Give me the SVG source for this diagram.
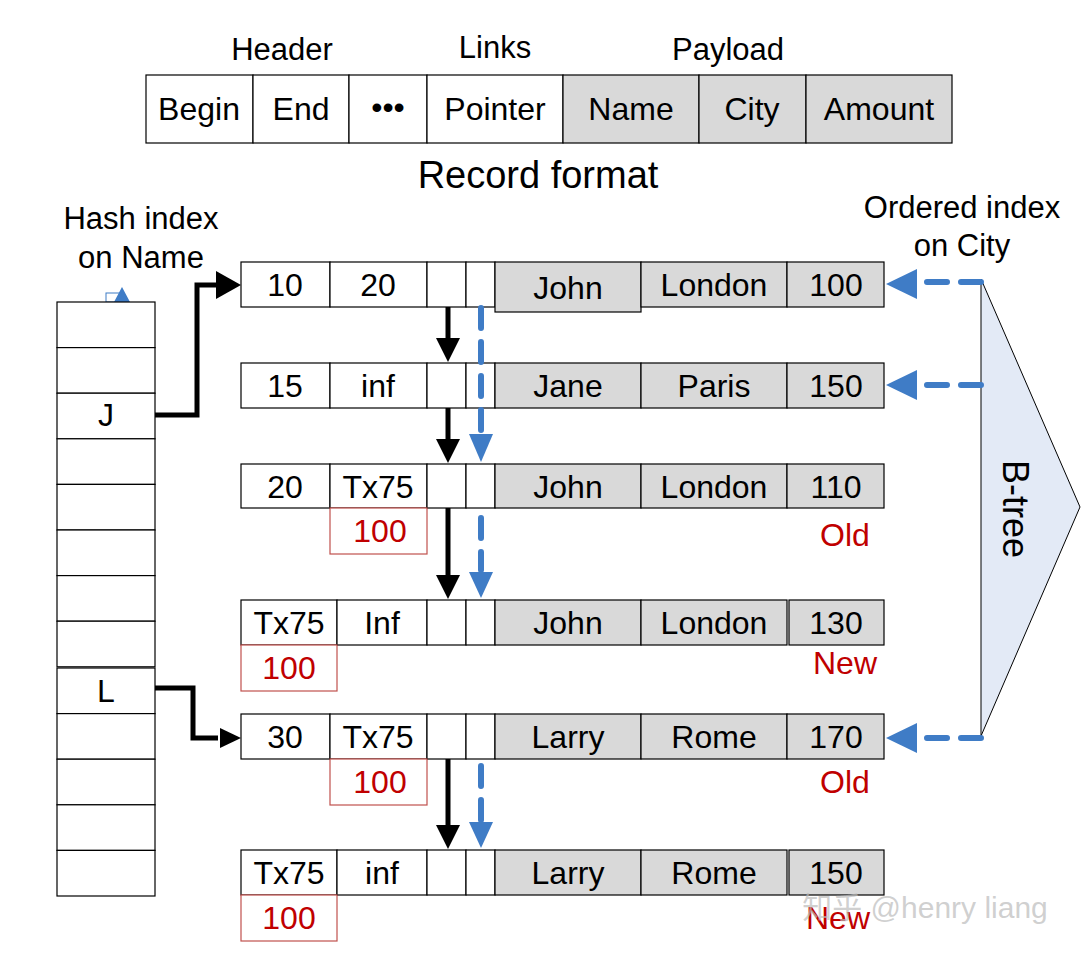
<svg xmlns="http://www.w3.org/2000/svg" width="1090" height="956" viewBox="0 0 1090 956">
<defs>
<style>
text{font-family:"Liberation Sans",Arial,sans-serif;fill:#000;text-anchor:middle}
.c{fill:#fff;stroke:#000;stroke-width:1.2}
.g{fill:#d9d9d9;stroke:#000;stroke-width:1.2}
.r{fill:#fff;stroke:#c0504d;stroke-width:1.2}
.t{font-size:32px}
.rt{font-size:32px;fill:#c00000}
.lb{font-size:31px}
.bk{fill:none;stroke:#000;stroke-width:5}
.bl{fill:none;stroke:#3f7cc6;stroke-width:6;stroke-dasharray:20,14;stroke-linecap:round}
</style>
</defs>
<g id="record-format">
<text x="282" y="60" class="lb">Header</text>
<text x="495" y="58" class="lb">Links</text>
<text x="728" y="60" class="lb">Payload</text>
<rect x="146" y="75" width="107" height="68" class="c"/><text x="199" y="120" class="t">Begin</text>
<rect x="253" y="75" width="96" height="68" class="c"/><text x="301" y="120" class="t">End</text>
<rect x="349" y="75" width="78" height="68" class="c"/><text x="388" y="118" class="t">•••</text>
<rect x="427" y="75" width="136" height="68" class="c"/><text x="495" y="120" class="t">Pointer</text>
<rect x="563" y="75" width="136" height="68" class="g"/><text x="631" y="120" class="t">Name</text>
<rect x="699" y="75" width="107" height="68" class="g"/><text x="752" y="120" class="t">City</text>
<rect x="806" y="75" width="146" height="68" class="g"/><text x="879" y="120" class="t">Amount</text>
<text x="538" y="188" style="font-size:38px">Record format</text>
</g>
<g id="hash-index">
<text x="141" y="229" class="lb">Hash index</text>
<text x="141" y="268" class="lb">on Name</text>
<rect x="106" y="293" width="16" height="9" fill="none" stroke="#3f7cc6" stroke-width="1"/>
<path d="M114,302L122,287L130,302z" fill="#3f7cc6"/>
<rect x="57" y="302" width="98" height="45.6" class="c"/>
<rect x="57" y="347.6" width="98" height="45.6" class="c"/>
<rect x="57" y="393.2" width="98" height="45.6" class="c"/>
<rect x="57" y="438.8" width="98" height="45.6" class="c"/>
<rect x="57" y="484.4" width="98" height="45.6" class="c"/>
<rect x="57" y="530" width="98" height="45.6" class="c"/>
<rect x="57" y="575.6" width="98" height="45.6" class="c"/>
<rect x="57" y="621.2" width="98" height="45.6" class="c"/>
<rect x="57" y="668" width="98" height="45.6" class="c"/>
<rect x="57" y="713.6" width="98" height="45.6" class="c"/>
<rect x="57" y="759.2" width="98" height="45.6" class="c"/>
<rect x="57" y="804.8" width="98" height="45.6" class="c"/>
<rect x="57" y="850.4" width="98" height="45.6" class="c"/>
<text x="106" y="426" class="t">J</text>
<text x="106" y="702" class="t">L</text>
</g>
<g id="btree">
<text x="962" y="218" class="lb">Ordered index</text>
<text x="962" y="256" class="lb">on City</text>
<path d="M981,279L1080,507L981,736z" fill="#e3eaf6" stroke="#000" stroke-width="1"/>
<text transform="translate(1003,509) rotate(90)" style="font-size:36px">B-tree</text>
</g>
<g id="r1">
<rect x="241" y="262" width="89" height="45" class="c"/><text x="285" y="296" class="t">10</text>
<rect x="330" y="262" width="97" height="45" class="c"/><text x="378" y="296" class="t">20</text>
<rect x="427" y="262" width="39" height="45" class="c"/><rect x="466" y="262" width="29" height="45" class="c"/>
<rect x="495" y="262" width="146" height="50" class="g"/><text x="568" y="299" class="t">John</text>
<rect x="641" y="262" width="146" height="45" class="g"/><text x="714" y="296" class="t">London</text>
<rect x="787" y="262" width="97" height="45" class="g"/><text x="836" y="296" class="t">100</text>
</g>
<g id="r2">
<rect x="241" y="363" width="89" height="45" class="c"/><text x="285" y="397" class="t">15</text>
<rect x="330" y="363" width="97" height="45" class="c"/><text x="378" y="397" class="t">inf</text>
<rect x="427" y="363" width="39" height="45" class="c"/><rect x="466" y="363" width="29" height="45" class="c"/>
<rect x="495" y="363" width="146" height="45" class="g"/><text x="568" y="397" class="t">Jane</text>
<rect x="641" y="363" width="146" height="45" class="g"/><text x="714" y="397" class="t">Paris</text>
<rect x="787" y="363" width="97" height="45" class="g"/><text x="836" y="397" class="t">150</text>
</g>
<g id="r3">
<rect x="241" y="464" width="89" height="44" class="c"/><text x="285" y="498" class="t">20</text>
<rect x="330" y="464" width="97" height="44" class="c"/><text x="378" y="498" class="t">Tx75</text>
<rect x="427" y="464" width="39" height="44" class="c"/><rect x="466" y="464" width="29" height="44" class="c"/>
<rect x="495" y="464" width="146" height="44" class="g"/><text x="568" y="498" class="t">John</text>
<rect x="641" y="464" width="146" height="44" class="g"/><text x="714" y="498" class="t">London</text>
<rect x="787" y="464" width="97" height="44" class="g"/><text x="836" y="498" class="t">110</text>
<rect x="330" y="508" width="97" height="46" class="r"/><text x="380" y="542" class="rt">100</text>
<text x="845" y="546" class="rt">Old</text>
</g>
<g id="r4">
<rect x="241" y="600" width="96" height="45" class="c"/><text x="289" y="634" class="t">Tx75</text>
<rect x="337" y="600" width="90" height="45" class="c"/><text x="382" y="634" class="t">Inf</text>
<rect x="427" y="600" width="39" height="45" class="c"/><rect x="466" y="600" width="29" height="45" class="c"/>
<rect x="495" y="600" width="146" height="45" class="g"/><text x="568" y="634" class="t">John</text>
<rect x="641" y="600" width="146" height="45" class="g"/><text x="714" y="634" class="t">London</text>
<rect x="789" y="600" width="95" height="45" class="g"/><text x="836" y="634" class="t">130</text>
<rect x="241" y="645" width="96" height="46" class="r"/><text x="289" y="679" class="rt">100</text>
<text x="845" y="674" class="rt">New</text>
</g>
<g id="r5">
<rect x="241" y="714" width="89" height="45" class="c"/><text x="285" y="748" class="t">30</text>
<rect x="330" y="714" width="97" height="45" class="c"/><text x="378" y="748" class="t">Tx75</text>
<rect x="427" y="714" width="39" height="45" class="c"/><rect x="466" y="714" width="29" height="45" class="c"/>
<rect x="495" y="714" width="146" height="45" class="g"/><text x="568" y="748" class="t">Larry</text>
<rect x="641" y="714" width="146" height="45" class="g"/><text x="714" y="748" class="t">Rome</text>
<rect x="787" y="714" width="97" height="45" class="g"/><text x="836" y="748" class="t">170</text>
<rect x="330" y="759" width="97" height="46" class="r"/><text x="380" y="793" class="rt">100</text>
<text x="845" y="793" class="rt">Old</text>
</g>
<g id="r6">
<rect x="241" y="850" width="96" height="45" class="c"/><text x="289" y="884" class="t">Tx75</text>
<rect x="337" y="850" width="90" height="45" class="c"/><text x="382" y="884" class="t">inf</text>
<rect x="427" y="850" width="39" height="45" class="c"/><rect x="466" y="850" width="29" height="45" class="c"/>
<rect x="495" y="850" width="146" height="45" class="g"/><text x="568" y="884" class="t">Larry</text>
<rect x="641" y="850" width="146" height="45" class="g"/><text x="714" y="884" class="t">Rome</text>
<rect x="789" y="850" width="95" height="45" class="g"/><text x="836" y="884" class="t">150</text>
<rect x="241" y="895" width="96" height="46" class="r"/><text x="289" y="929" class="rt">100</text>
<text x="838" y="929" class="rt">New</text>
</g>
<g id="connectors">
<path d="M155,415H197V285H218" class="bk"/><path d="M216,271L241,285L216,299z"/>
<path d="M155,688H193V738H218" class="bk"/><path d="M220,728L241,738L220,748z"/>
<path d="M448,307V340" class="bk"/><path d="M436,338L448,362L460,338z"/>
<path d="M448,408V441" class="bk"/><path d="M436,439L448,463L460,439z"/>
<path d="M448,508V577" class="bk"/><path d="M436,575L448,599L460,575z"/>
<path d="M448,759V827" class="bk"/><path d="M436,825L448,849L460,825z"/>
<path d="M481,308V432" class="bl"/><path d="M469,434L481,462L493,434z" fill="#3f7cc6"/>
<path d="M481,518V570" class="bl"/><path d="M469,572L481,598L493,572z" fill="#3f7cc6"/>
<path d="M481,766V820" class="bl"/><path d="M469,822L481,848L493,822z" fill="#3f7cc6"/>
<path d="M981,282H912" class="bl"/><path d="M917,269L886,284L917,299z" fill="#3f7cc6"/>
<path d="M981,385H912" class="bl"/><path d="M917,370L886,385L917,400z" fill="#3f7cc6"/>
<path d="M981,738H912" class="bl"/><path d="M917,723L886,738L917,753z" fill="#3f7cc6"/>
</g>
<text x="925" y="918" style="font-size:30px;fill:#bbb;fill-opacity:0.7;font-family:'Liberation Sans','Noto Sans CJK SC',sans-serif">知乎 @henry liang</text>
</svg>
